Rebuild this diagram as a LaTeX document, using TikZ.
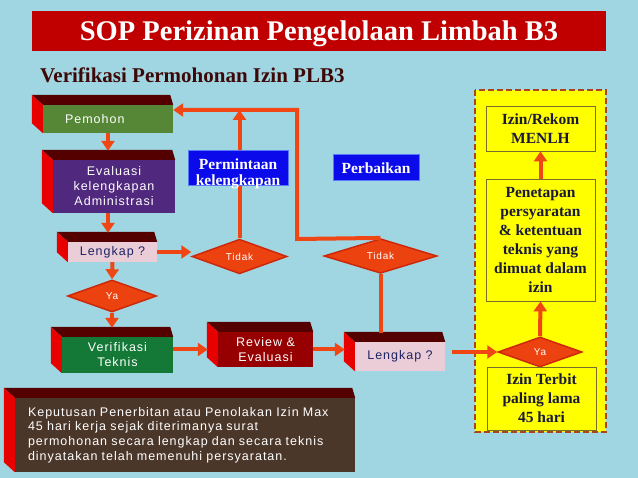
\documentclass[tikz,border=0pt]{standalone}
\usepackage{fontspec}
\setmainfont{Liberation Serif}
\newfontfamily\boxfont[LetterSpace=8]{Liberation Sans}
\usepackage{xcolor}
\usetikzlibrary{arrows.meta, calc, shapes.geometric}
\definecolor{bgcyan}{RGB}{160,214,226}
\definecolor{titlered}{RGB}{192,0,0}
\definecolor{subtitlered}{RGB}{60,8,8}
\definecolor{flowred}{RGB}{240,70,20}
\definecolor{diamondred}{RGB}{236,66,16}
\definecolor{diamondedge}{RGB}{205,40,10}
\definecolor{topface}{RGB}{85,0,0}
\definecolor{sideface}{RGB}{232,0,0}
\definecolor{pemohongreen}{RGB}{85,135,55}
\definecolor{evalpurple}{RGB}{80,40,125}
\definecolor{lengkappink}{RGB}{235,205,215}
\definecolor{lengkapnavy}{RGB}{30,35,100}
\definecolor{verifgreen}{RGB}{20,120,55}
\definecolor{reviewred}{RGB}{150,0,0}
\definecolor{catatanbrown}{RGB}{75,55,42}
\definecolor{noteblue}{RGB}{10,10,235}
\definecolor{noteedge}{RGB}{90,120,255}
\definecolor{panelyellow}{RGB}{255,255,0}
\definecolor{paneledge}{RGB}{170,70,30}
\definecolor{outcomeedge}{RGB}{120,110,40}
\definecolor{outcometext}{RGB}{25,25,60}
\newcommand\boxfaces[1]{%
\fill[topface] (#1.north west) -- ++(-11,-10) -- ([shift={(-3,-10)}]#1.north east) -- (#1.north east) -- cycle;
\fill[sideface] (#1.north west) -- ++(-11,-10) -- ([shift={(-11,-10)}]#1.south west) -- (#1.south west) -- cycle;
\coordinate (#1-top) at ([shift={(-7,-9)}]#1.north);
\coordinate (#1-back) at ([shift={(-10,0)}]#1.west);}

\begin{document}
\begin{tikzpicture}[x=1pt, y=-1pt,
  cube/.style={fill=#1, text=white, align=center, inner sep=0pt, font=\boxfont\fontsize{12.5}{15}\selectfont},
  decision/.style={diamond, fill=diamondred, draw=diamondedge, line width=1.5pt, inner sep=0pt, text=white, font=\boxfont\fontsize{10}{12}\selectfont},
  outcome/.style={rectangle, fill=panelyellow, draw=outcomeedge, line width=0.8pt, align=center, inner sep=0pt, text=outcometext, font=\bfseries\fontsize{15.5}{19}\selectfont},
  notebox/.style={fill=noteblue, draw=noteedge, line width=1pt, inner sep=0pt, text=white, font=\bfseries\fontsize{15.5}{15}\selectfont},
  flow/.style={draw=flowred, line width=4pt},
  arrowflow/.style={flow, -{Triangle[width=13pt,length=10pt]}}]
\fill[bgcyan] (0,0) rectangle (638,478);
\node (title) [fill=titlered, minimum width=574pt, minimum height=40pt, text depth=0pt, text=white, font=\bfseries\fontsize{28.5}{30}\selectfont] at (319,31) {SOP Perizinan Pengelolaan Limbah B3};
\node (subtitle) [anchor=base west, inner sep=0pt, text=subtitlered, font=\bfseries\fontsize{21}{24}\selectfont] at (40,83) {Verifikasi Permohonan Izin PLB3};
\filldraw[fill=panelyellow, draw=paneledge, line width=1.5pt, dash pattern=on 6pt off 3pt] (475,90) rectangle (606,432);
% left column
\node (pemohon) [cube=pemohongreen, minimum height=28pt, text width=86pt, inner xsep=22pt, align=left] at (108,119) {Pemohon};
\boxfaces{pemohon}
\node (eval) [cube=evalpurple, minimum width=122pt, minimum height=53pt] at (114,186.5) {Evaluasi\\kelengkapan\\Administrasi};
\boxfaces{eval}
\node (lengkapA) [cube=lengkappink, text=lengkapnavy, minimum width=89pt, minimum height=20pt] at (112.5,252) {Lengkap ?};
\boxfaces{lengkapA}
\node (yaA) [decision, minimum width=89pt, minimum height=32pt] at (112,296) {Ya};
\node (verif) [cube=verifgreen, minimum width=111pt, minimum height=36pt] at (117.5,355) {Verifikasi\\Teknis};
\boxfaces{verif}
\node (review) [cube=reviewred, minimum width=95pt, minimum height=35pt] at (265.5,349.5) {Review \&\\Evaluasi};
\boxfaces{review}
\node (lengkapB) [cube=lengkappink, text=lengkapnavy, minimum width=90pt, minimum height=29pt] at (400,356.5) {Lengkap ?};
\boxfaces{lengkapB}
\node (tidakA) [decision, minimum width=95pt, minimum height=33pt] at (239.5,256.5) {Tidak};
\node (tidakB) [decision, minimum width=113pt, minimum height=34pt] at (380.5,256) {Tidak};
\node (catatan) [cube=catatanbrown, minimum height=74pt, text width=314pt, inner xsep=13pt, align=left, font=\boxfont\fontsize{12.5}{14.7}\selectfont] at (185,435) {Keputusan Penerbitan atau Penolakan Izin Max\\45 hari kerja sejak diterimanya surat\\permohonan secara lengkap dan secara teknis\\dinyatakan telah memenuhi persyaratan.};
\boxfaces{catatan}
% right column
\node (rekom) [outcome, minimum width=109pt, minimum height=45pt] at (540.5,128.5) {Izin/Rekom\\MENLH};
\node (penetapan) [outcome, minimum width=109pt, minimum height=122pt] at (540.5,240) {Penetapan\\persyaratan\\\& ketentuan\\teknis yang\\dimuat dalam\\izin};
\node (yaB) [decision, minimum width=84pt, minimum height=30pt] at (540,352) {Ya};
\node (terbit) [outcome, minimum width=109pt, minimum height=63pt] at (541.5,398.5) {Izin Terbit\\paling lama\\45 hari};
\coordinate (bendB) at (297,239);
\coordinate (bendA) at (297,110);
\draw[arrowflow] (pemohon.south) -- (pemohon.south |- eval-top);
\draw[arrowflow] (pemohon.south |- eval.south) -- (pemohon.south |- lengkapA-top);
\draw[arrowflow] (lengkapA.south) -- (yaA.north);
\draw[arrowflow] (yaA.south) -- (yaA.south |- verif-top);
\draw[arrowflow] (verif.east |- review.west) -- (review.west -| review-back);
\draw[arrowflow] (review.east) -- (review.east -| lengkapB-back);
\draw[arrowflow] (lengkapA.east) -- (lengkapA.east -| tidakA.west);
\draw[arrowflow] (tidakA.north) -- (tidakA.north |- bendA);
\draw[flow] (tidakB.south) -- (tidakB.south |- lengkapB-top);
\draw[arrowflow] (tidakB.north) -- (bendB) -- (bendA) -- (bendA -| pemohon.east);
\draw[arrowflow, shorten <=7pt] (lengkapB.east |- yaB.west) -- (yaB.west);
\draw[arrowflow] (yaB.north) -- (penetapan.south);
\draw[arrowflow] (penetapan.north) -- (rekom.south);
\node (permintaan) [notebox, minimum width=100pt, minimum height=35pt] at (238,168.5) {\smash{\raisebox{-9.5pt}{\begin{tabular}{@{}c@{}}Permintaan\\kelengkapan\end{tabular}}}};
\node (perbaikan) [notebox, minimum width=86pt, minimum height=26pt] at (376,168) {Perbaikan};
\end{tikzpicture}
\end{document}
